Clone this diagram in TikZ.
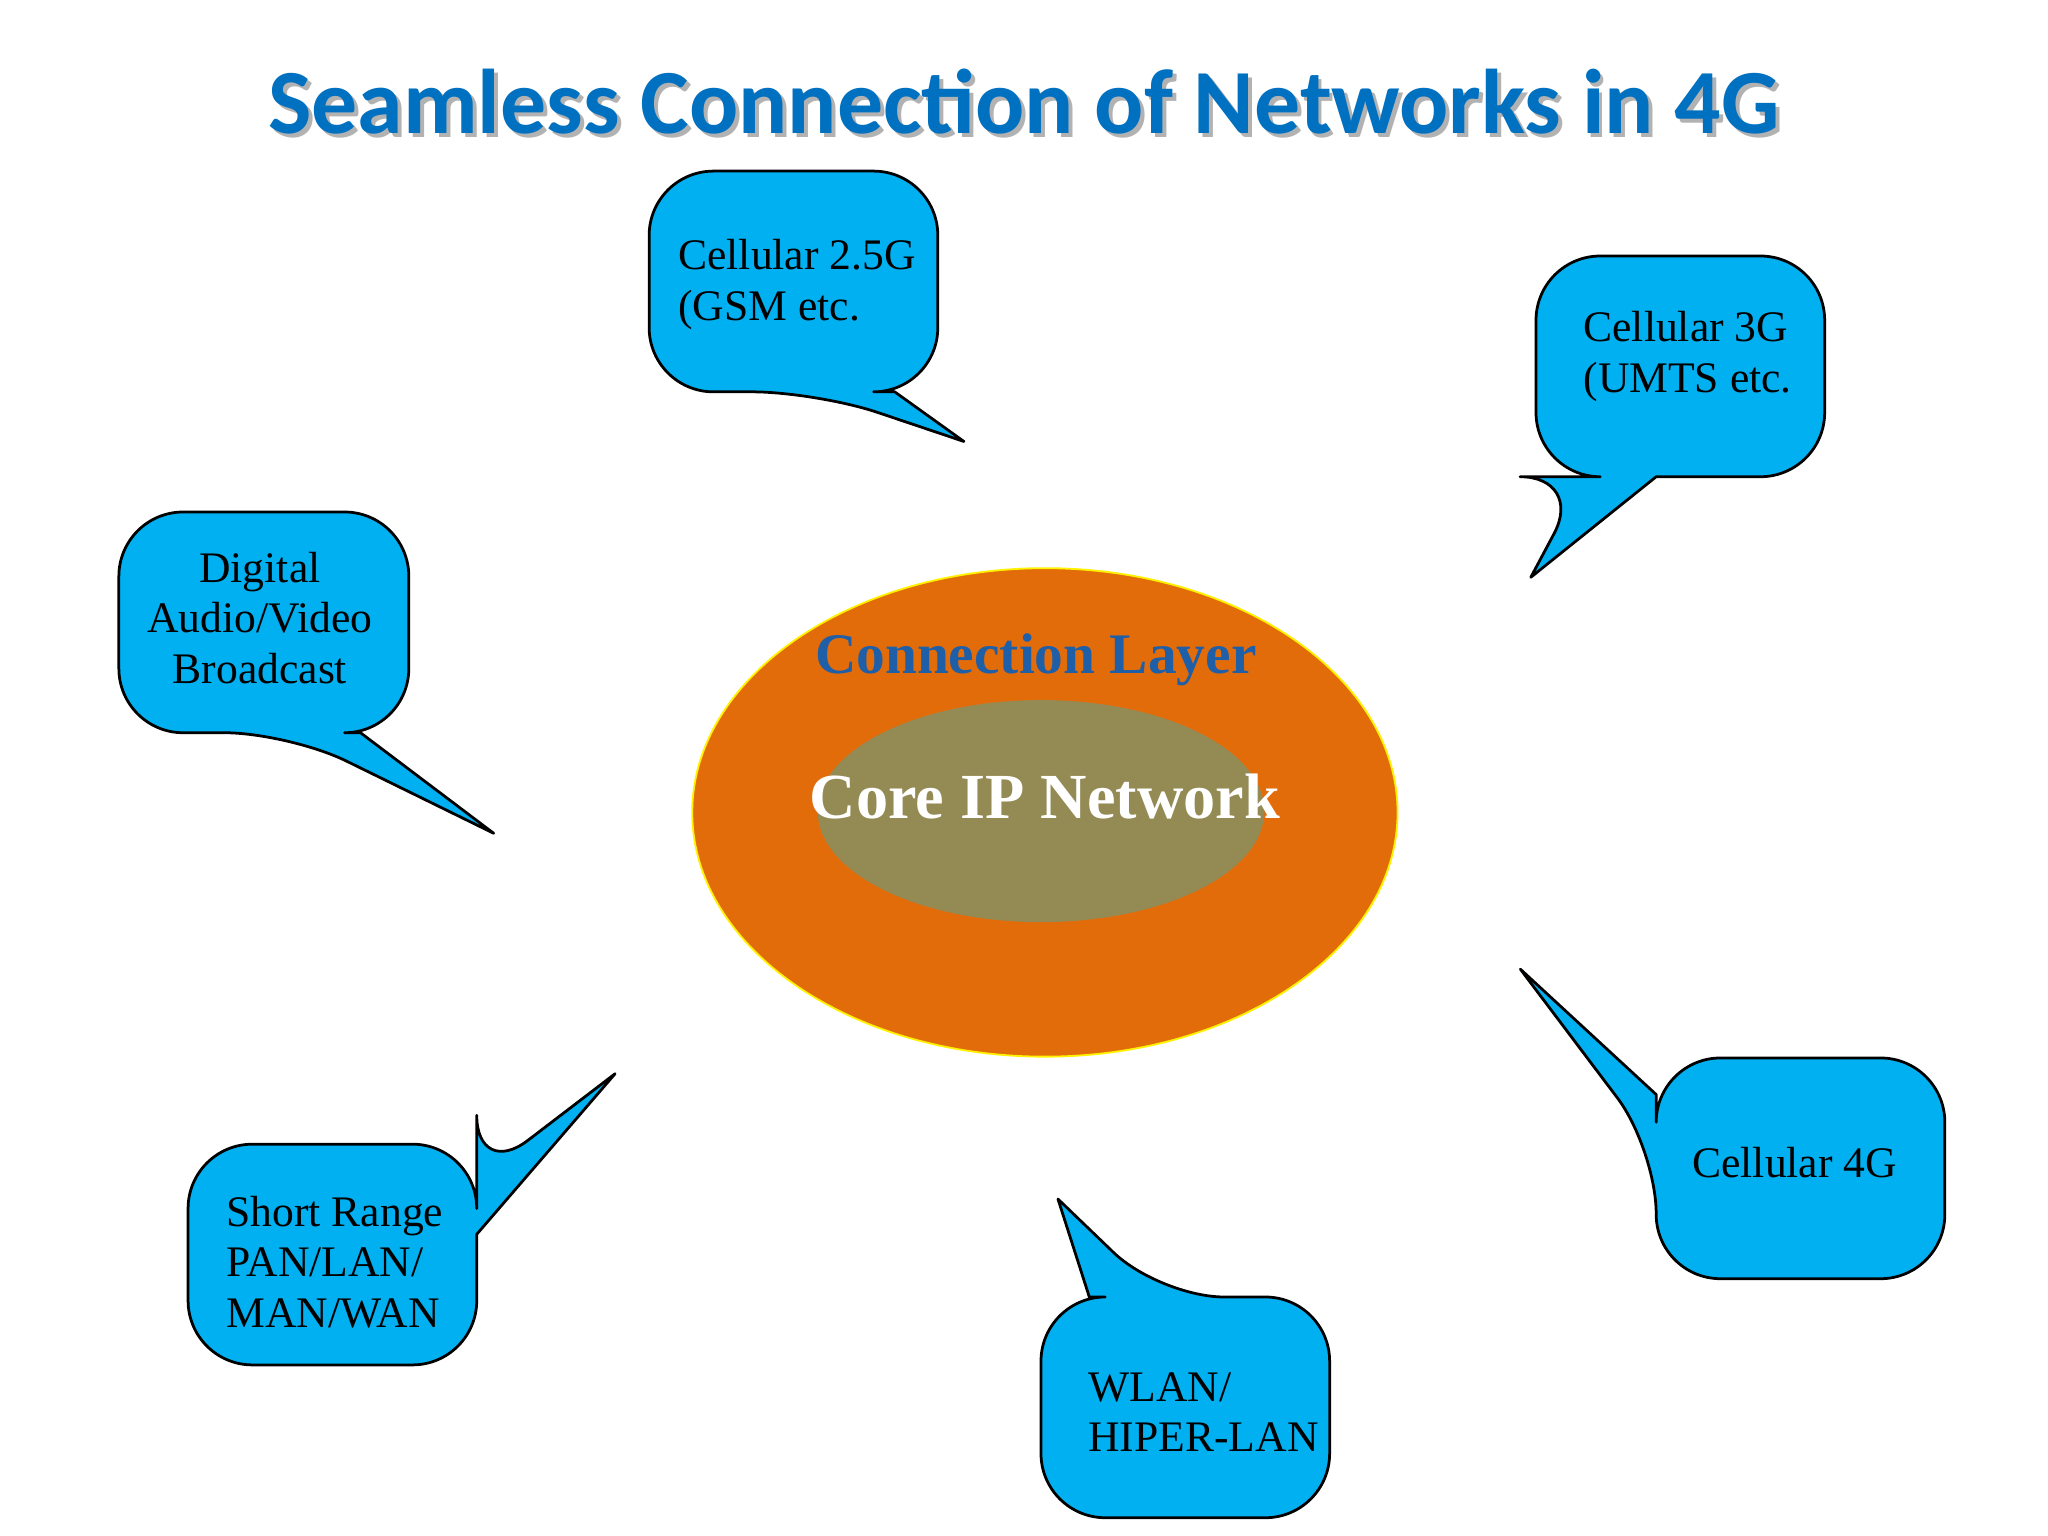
\documentclass[tikz,border=0pt]{standalone}
\usepackage{fontspec}
\setmainfont{Liberation Serif}
\newfontfamily\titlefont{Carlito}
\begin{document}
\begin{tikzpicture}[x=0.02cm,y=-0.02cm,
  bub/.style={fill=bubblue,draw=black,line width=1.2pt,line join=round},
  btxt/.style={font=\fontsize{19}{22}\selectfont,inner sep=0pt,align=left,anchor=west}]
\definecolor{bubblue}{HTML}{00B0F0}
\definecolor{orng}{HTML}{E36C0A}
\definecolor{olive}{HTML}{948A54}
\definecolor{ttl}{HTML}{0070C0}
\definecolor{cl}{HTML}{1F5FA8}
\useasboundingbox[fill=white] (0,0) rectangle (1568,1176);
% title
\node[text=gray!60,font=\titlefont\bfseries\fontsize{40}{44}\selectfont] (tshadow) at (787,81) {Seamless Connection of Networks in 4G};
\node[text=ttl,font=\titlefont\bfseries\fontsize{40}{44}\selectfont] (title) at (784,78) {Seamless Connection of Networks in 4G};
% ellipses
\fill[orng,draw=yellow,line width=0.8pt] (800,622) ellipse [x radius=270,y radius=187];
\fill[olive] (797,621) ellipse [x radius=171,y radius=85];
\node[text=cl,font=\bfseries\fontsize{25}{28}\selectfont] (conn) at (793,505) {Connection Layer};
\node[text=white,font=\bfseries\fontsize{28}{30}\selectfont] (core) at (800,610) {Core IP Network};
% bubble 1
\draw[bub] (625,300) [sharp corners]-- (738,338) -- (685,300) [rounded corners=28] -- (718,300) -- (718,131) -- (497,131) -- (497,300) -- cycle;
\node[btxt] (b1) at (519,218) {Cellular 2.5G\\(GSM etc.};
% bubble 2
\draw[bub] (1213,365) [sharp corners]-- (1172,442) -- (1268,365) [rounded corners=28] -- (1397,365) -- (1397,196) -- (1176,196) -- (1176,365) -- cycle;
\node[btxt] (b2) at (1212,273) {Cellular 3G\\(UMTS etc.};
% bubble 3
\draw[bub] (221,561) [sharp corners]-- (378,638) -- (276,561) [rounded corners=28] -- (313,561) -- (313,392) -- (91,392) -- (91,561) -- cycle;
\node[btxt,align=center,anchor=center] (b3) at (199,473) {Digital\\Audio/Video\\Broadcast};
% bubble 4
\draw[bub] (365,903) [sharp corners]-- (471,822) -- (365,945) [rounded corners=28] -- (365,1045) -- (144,1045) -- (144,876) -- (365,876) -- cycle;
\node[btxt] (b4) at (173,966) {Short Range\\PAN/LAN/\\MAN/WAN};
% bubble 5
\draw[bub] (888,993) [sharp corners]-- (810,918) -- (834,993) [rounded corners=28] -- (797,993) -- (797,1162) -- (1018,1162) -- (1018,993) -- cycle;
\node[btxt] (b5) at (833,1081) {WLAN/\\HIPER-LAN};
% bubble 6
\draw[bub] (1268,880) [sharp corners]-- (1164,742) -- (1268,838) [rounded corners=28] -- (1268,810) -- (1489,810) -- (1489,979) -- (1268,979) -- cycle;
\node[btxt,anchor=center] (b6) at (1374,890) {Cellular 4G};
\end{tikzpicture}
\end{document}
